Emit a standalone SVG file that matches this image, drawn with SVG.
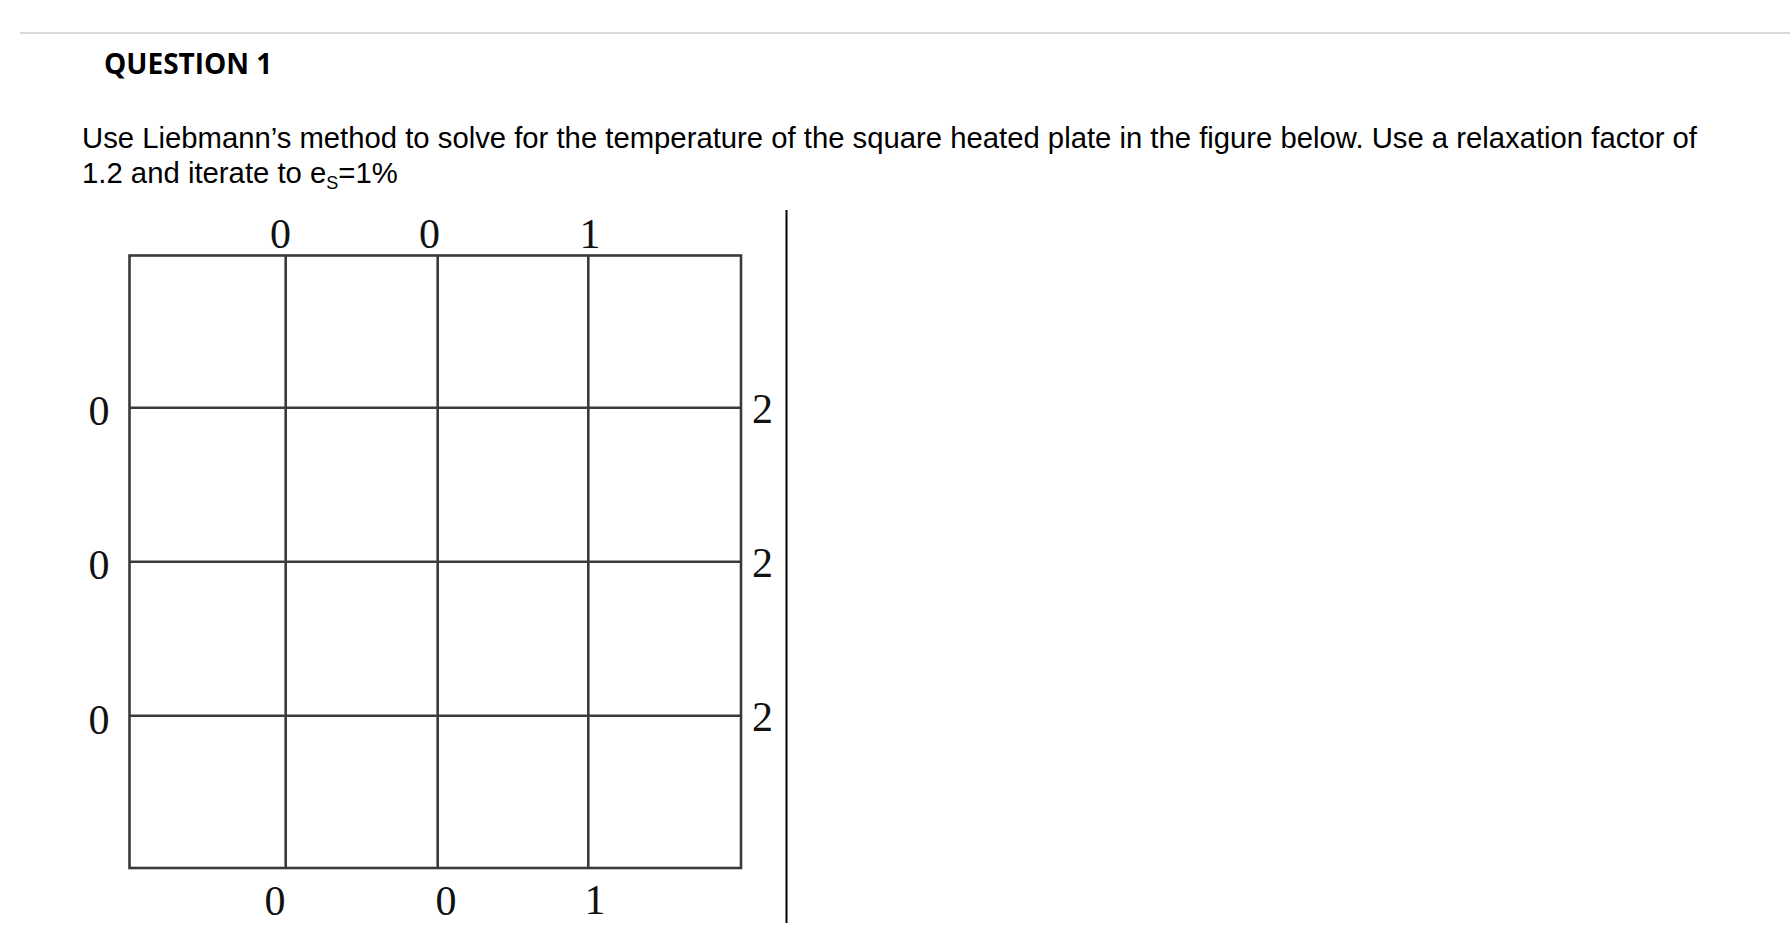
<svg xmlns="http://www.w3.org/2000/svg" width="1790" height="934" viewBox="0 0 1790 934">
<style>
.title{font-family:"Open Sans","Noto Sans",sans-serif;font-weight:700;font-size:28px;fill:#000}
.body{font-family:"Liberation Sans",Arial,sans-serif;font-size:29.3px;fill:#000}
.sub{font-size:18px}
.lbl{font-family:"Liberation Serif","DejaVu Serif",serif;font-size:42px;fill:#111;text-anchor:middle}
.grid{stroke:#3a3a3a;stroke-width:2.6;fill:none}
</style>
<rect width="1790" height="934" fill="#ffffff"/>
<line x1="20" y1="33" x2="1790" y2="33" stroke="#cccccc" stroke-width="1.5"/>
<g id="header">
<text class="title" x="104" y="74">QUESTION 1</text>
<text class="body" x="82" y="148" textLength="1615" lengthAdjust="spacingAndGlyphs">Use Liebmann’s method to solve for the temperature of the square heated plate in the figure below. Use a relaxation factor of</text>
<text class="body" x="82" y="183">1.2 and iterate to e<tspan class="sub" dy="6">S</tspan><tspan dy="-6">=1%</tspan></text>
</g>
<line x1="786.5" y1="210" x2="786.5" y2="923" stroke="#000" stroke-width="2"/>
<g id="plate">
<rect class="grid" x="129.5" y="255.5" width="611.5" height="612.5"/>
<line class="grid" x1="285.7" y1="255.5" x2="285.7" y2="868"/>
<line class="grid" x1="437.7" y1="255.5" x2="437.7" y2="868"/>
<line class="grid" x1="588.3" y1="255.5" x2="588.3" y2="868"/>
<line class="grid" x1="129.5" y1="407.7" x2="741" y2="407.7"/>
<line class="grid" x1="129.5" y1="561.7" x2="741" y2="561.7"/>
<line class="grid" x1="129.5" y1="715.7" x2="741" y2="715.7"/>
</g>
<g id="labels-top">
<text class="lbl" x="280.5" y="248">0</text>
<text class="lbl" x="429.5" y="248">0</text>
<text class="lbl" x="590" y="248">1</text>
</g>
<g id="labels-left">
<text class="lbl" x="99" y="425">0</text>
<text class="lbl" x="99" y="579">0</text>
<text class="lbl" x="99" y="734">0</text>
</g>
<g id="labels-right">
<text class="lbl" x="762.5" y="423">2</text>
<text class="lbl" x="762.5" y="577">2</text>
<text class="lbl" x="762.5" y="731">2</text>
</g>
<g id="labels-bottom">
<text class="lbl" x="275" y="915">0</text>
<text class="lbl" x="446" y="915">0</text>
<text class="lbl" x="595" y="914">1</text>
</g>
</svg>
